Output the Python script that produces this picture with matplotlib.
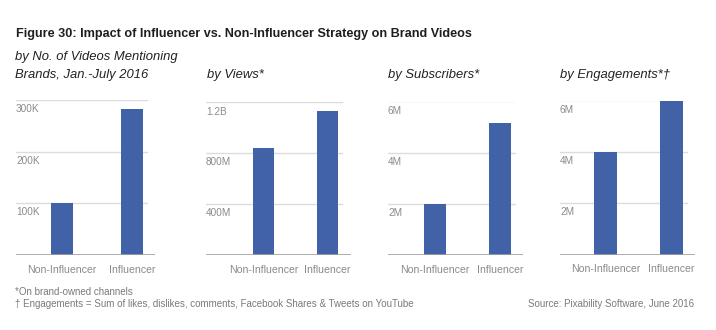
import matplotlib
matplotlib.use("Agg")
import matplotlib.pyplot as plt

plt.rcParams['font.family'] = ['Liberation Sans', 'DejaVu Sans']

categories = ["Non-Influencer", "Influencer"]

videos = [100_000, 283_000]
views = [845e6, 1130e6]
subscribers = [2.0e6, 5.16e6]
engagements = [4.0e6, 6.0e6]

videos_ticks = [100_000, 200_000, 300_000]
videos_tick_labels = ["100K", "200K", "300K"]
views_ticks = [400e6, 800e6, 1.2e9]
views_tick_labels = ["400M", "800M", "1.2B"]
millions_ticks = [2e6, 4e6, 6e6]
millions_tick_labels = ["2M", "4M", "6M"]

panel_titles = ["by No. of Videos Mentioning\nBrands, Jan.-July 2016",
                "by Views*", "by Subscribers*", "by Engagements*\u2020"]

title = "Figure 30: Impact of Influencer vs. Non-Influencer Strategy on Brand Videos"
note1 = "*On brand-owned channels"
note2 = "\u2020 Engagements = Sum of likes, dislikes, comments, Facebook Shares & Tweets on YouTube"
source = "Source: Pixability Software, June 2016"

BAR = "#4262A8"
GRID = "#DCDCDC"
BASE = "#A0A0A0"
TICK = "#8A8A8A"

W, H = 716, 330
fig = plt.figure(figsize=(W / 100, H / 100), dpi=100)
fig.patch.set_facecolor("white")

# panel layout in pixels: left, right, top gridline, baseline, xlim, bar width
panels = [
    dict(vals=videos, ticks=videos_ticks, labels=videos_tick_labels,
         left=16, right=155, top=100, base=255, xlim=(-0.657, 1.329), bw=0.314),
    dict(vals=views, ticks=views_ticks, labels=views_tick_labels,
         left=206, right=351, top=102.5, base=255, xlim=(-0.90, 1.367), bw=0.34),
    dict(vals=subscribers, ticks=millions_ticks, labels=millions_tick_labels,
         left=388, right=523, top=101.5, base=255, xlim=(-0.72, 1.354), bw=0.34),
    dict(vals=engagements, ticks=millions_ticks, labels=millions_tick_labels,
         left=560, right=695, top=100.5, base=254.5, xlim=(-0.69, 1.356), bw=0.35),
]

for p in panels:
    ax = fig.add_axes([p["left"] / W, 1 - p["base"] / H,
                       (p["right"] - p["left"]) / W, (p["base"] - p["top"]) / H])
    ax.set_xlim(*p["xlim"])
    ax.set_ylim(0, p["ticks"][-1])
    for s in ax.spines.values():
        s.set_visible(False)
    ax.set_yticks([])
    ax.set_xticks([0, 1])
    ax.set_xticklabels(categories, color=TICK, fontsize=7.6)
    ax.tick_params(axis="x", length=0, pad=7)
    for t, lab in zip(p["ticks"], p["labels"]):
        ax.axhline(t, xmin=0, xmax=0.94, color=GRID, lw=1.0, zorder=0)
        # value label sits just under its gridline, flush left
        ax.annotate(lab, (0.0, t), xycoords=ax.get_yaxis_transform(),
                    xytext=(0, -6.5), textcoords="offset points",
                    ha="left", va="center", fontsize=7.2, color=TICK,
                    annotation_clip=False)
    ax.axhline(0, color=BASE, lw=1.2, zorder=3)
    ax.bar([0, 1], p["vals"], width=p["bw"], color=BAR, zorder=2)

fig.text(16 / W, 1 - 34 / H, title, fontsize=9.1, fontweight="bold",
         color="#1E1E1E", va="center", ha="left")
fig.text(15 / W, 1 - 57 / H, panel_titles[0].split("\n")[0], fontsize=9.4,
         style="italic", color="#222222", va="center", ha="left")
fig.text(15 / W, 1 - 75 / H, panel_titles[0].split("\n")[1], fontsize=9.4,
         style="italic", color="#222222", va="center", ha="left")
for x, t in zip([207, 388, 560], panel_titles[1:]):
    fig.text(x / W, 1 - 75 / H, t, fontsize=9.4, style="italic",
             color="#222222", va="center", ha="left")

fig.text(15 / W, 1 - 292 / H, note1, fontsize=7.0, color="#7A7A7A",
         va="center", ha="left")
fig.text(15 / W, 1 - 304 / H, note2, fontsize=7.0, color="#7A7A7A",
         va="center", ha="left")
fig.text(694 / W, 1 - 304 / H, source, fontsize=7.0, color="#7A7A7A",
         va="center", ha="right")

fig.savefig("out.png", dpi=100, facecolor="white")
